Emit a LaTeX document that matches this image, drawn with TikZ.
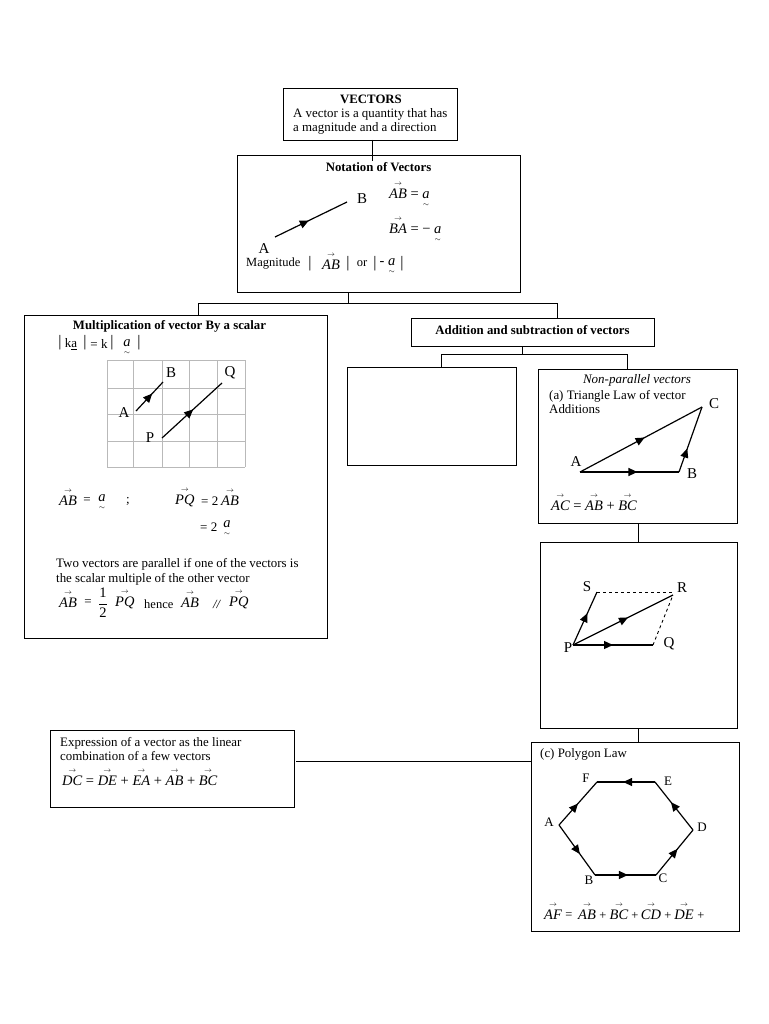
\documentclass[tikz,border=0pt]{standalone}
\usepackage{fontspec}
\setmainfont{Liberation Serif}
\usetikzlibrary{arrows.meta,positioning,decorations.markings}
\newcommand{\vc}[1]{\ensuremath{\mathop{\hbox{\itshape #1}}\limits^{\raise1.5pt\hbox{$\scriptscriptstyle\rightarrow$}}}}
\newcommand{\ua}{\ensuremath{\mathop{\hbox{\itshape a}}\limits_{\lower2pt\hbox{$\scriptscriptstyle\sim$}}}}
\begin{document}
\begin{tikzpicture}[x=1pt,y=-1pt,
box/.style={draw,line width=0.9pt,inner sep=0pt,outer sep=0pt},
link/.style={line width=0.9pt},
txt/.style={inner sep=0pt,align=left,anchor=west,font=\fontsize{12.9}{14.5}\selectfont},
head/.style={inner sep=0pt,font=\fontsize{12.8}{14}\selectfont\bfseries},
lab/.style={inner sep=0pt,font=\fontsize{15}{16}\selectfont},
plab/.style={inner sep=0pt,font=\fontsize{13}{14}\selectfont},
eqn/.style={inner sep=0pt,font=\fontsize{14.5}{16}\selectfont},
small/.style={inner sep=0pt,font=\fontsize{12.5}{14}\selectfont},
bar/.style={inner sep=0pt,font=\fontsize{16}{17}\selectfont},
vecline/.style={line width=1.2pt,postaction={decorate,decoration={markings,mark=at position #1 with {\arrow{Triangle[length=9pt,width=8pt]}}}}},
vecline/.default=0.5]
\useasboundingbox (0,0) rectangle (768,1024);
\node[box,minimum width=174pt,minimum height=52pt] (vectors) at (370,114) {};
\node[box,minimum width=283pt,minimum height=137pt,below=15pt of vectors,xshift=8.5pt] (notation) {};
\node[box,minimum width=303pt,minimum height=323pt,below=23pt of notation,xshift=-203pt] (mult) {};
\node[box,minimum width=243pt,minimum height=28pt,below=26pt of notation,xshift=154pt] (add) {};
\node[box,minimum width=169pt,minimum height=98pt,below=21pt of add,xshift=-101pt] (empty) {};
\node[box,minimum width=199pt,minimum height=154pt,below=23pt of add,xshift=105pt] (nonpar) {};
\node[box,minimum width=197pt,minimum height=186pt,below=19pt of nonpar,xshift=1pt] (para) {};
\node[box,minimum width=208pt,minimum height=189pt,below=14pt of para,xshift=-3.5pt] (poly) {};
\node[box,minimum width=244pt,minimum height=77pt,left=237pt of poly,yshift=68pt] (expr) {};

\coordinate (topend) at (372,161);
\coordinate (jn) at (348,303);
\coordinate (jl) at (198,303);
\coordinate (jr) at (557,303);
\coordinate (ja) at (522,354);
\coordinate (jb) at (441,354);
\coordinate (jc) at (627,354);
\coordinate (jp) at (638,530);
\coordinate (jq) at (638,735);
\coordinate (je) at (296,761);
\draw[link] (topend |- vectors.south)--(topend);
\draw[link] (jn |- notation.south)--(jn);
\draw[link] (mult.north -| jl)--(jl)--(jr)--(add.north -| jr);
\draw[link] (ja |- add.south)--(ja);
\draw[link] (empty.north -| jb)--(jb)--(jc)--(nonpar.north -| jc);
\draw[link] (jp |- nonpar.south)--(jp |- para.north);
\draw[link] (jq |- para.south)--(jq |- poly.north);
\draw[link] (je)--(je -| poly.west);

\node[head] (vectitle) at (371,99) {VECTORS};
\node[txt] (vecdef) at (293,121.5) {A vector is a quantity that has\\a magnitude and a direction};

\node[head] (nottitle) at (378.5,167.5) {Notation of Vectors};
\coordinate (na) at (275,237);
\coordinate (nb) at (347,202);
\draw[vecline=0.47] (na)--(nb);
\node[lab] (nblab) at (362,199) {B};
\node[lab] (nalab) at (264,249) {A};
\node[eqn,anchor=west] (abeq) at (389,195) {\vc{AB} = \ua};
\node[eqn,anchor=west] (baeq) at (389,230) {\vc{BA} = − \ua};
\node[small,anchor=west] (maglab) at (246,264) {Magnitude};
\node[bar] (mb1) at (310,264) {|};
\node[eqn] (magab) at (331,261) {\vc{AB}};
\node[bar] (mb2) at (348,264) {|};
\node[small] (magor) at (362,264) {or};
\node[bar] (mb3) at (375,264) {|};
\node[eqn] (maga) at (387.5,267) {- \ua};
\node[bar] (mb4) at (402,264) {|};

\node[head] (multtitle) at (169.5,326.5) {Multiplication of vector By a scalar};
\node[bar] (kb1) at (60,343) {|};
\node[plab] (kaa) at (71,344) {k\underline{a}};
\node[bar] (kb2) at (85,343) {|};
\node[plab] (kk) at (99,344) {= k};
\node[bar] (kb3) at (112,343) {|};
\node[eqn] (kv) at (127,348) {\ua};
\node[bar] (kb4) at (139,343) {|};
\foreach \x in {107,133,162,189,217,245} \draw[gray!55,line width=1pt] (\x,360)--(\x,467);
\foreach \y in {360,388,414,441,467} \draw[gray!55,line width=1pt] (107,\y)--(245,\y);
\coordinate (ga) at (136,411);
\coordinate (gb) at (163,382);
\coordinate (gp) at (162,438);
\coordinate (gq) at (222,383);
\draw[vecline=0.6] (ga)--(gb);
\draw[vecline=0.52] (gp)--(gq);
\node[lab] (gblab) at (171,373) {B};
\node[lab] (gqlab) at (230,373) {Q};
\node[lab] (galab) at (124,413) {A};
\node[lab] (gplab) at (150,438) {P};
\node[eqn,anchor=west] (eqab) at (59,497.5) {\vc{AB}};
\node[plab] (eqeq) at (87,501) {=};
\node[eqn] (eqa) at (102,503) {\ua};
\node[plab] (eqsemi) at (128,501) {;};
\node[eqn,anchor=west] (eqpq) at (175,497.5) {\vc{PQ}};
\node[plab,anchor=west] (eqtwo) at (201,501) {= 2};
\node[eqn,anchor=west] (eqab2) at (221,497.5) {\vc{AB}};
\node[plab,anchor=west] (eqtwob) at (200,527) {= 2};
\node[eqn] (eqa2) at (227,529) {\ua};
\node[txt] (parallel) at (56,572) {Two vectors are parallel if one of the vectors is\\the scalar multiple of the other vector};
\node[eqn,anchor=west] (hab) at (59,599.5) {\vc{AB}};
\node[plab] (heq) at (88,603) {=};
\node[eqn] (hhalf) at (103,603) {$\displaystyle\frac{\hbox{1}}{\hbox{2}}$};
\node[eqn,anchor=west] (hpq) at (115,599.5) {\vc{PQ}};
\node[small,anchor=west] (hhence) at (144,604) {hence};
\node[eqn,anchor=west] (hab2) at (181,599.5) {\vc{AB}};
\node[small] (hpar) at (217,604) {\textit{//}};
\node[eqn,anchor=west] (hpq2) at (229,599.5) {\vc{PQ}};

\node[head] (addtitle) at (532.5,330.5) {Addition and subtraction of vectors};

\node[plab,font=\fontsize{13}{14}\selectfont\itshape] (nptitle) at (637,380) {Non-parallel vectors};
\node[txt] (trilaw) at (549,402) {(a) Triangle Law of vector\\Additions};
\coordinate (ta) at (580,472);
\coordinate (tb) at (679,472);
\coordinate (tc) at (702,407);
\draw[vecline=0.58] (ta)--(tb);
\draw[vecline=0.36] (tb)--(tc);
\draw[vecline=0.53] (ta)--(tc);
\node[lab] (talab) at (576,462) {A};
\node[lab] (tblab) at (692,474) {B};
\node[lab] (tclab) at (714,404) {C};
\node[eqn,anchor=west] (treq) at (551,502) {\vc{AC} = \vc{AB} + \vc{BC}};

\coordinate (pp) at (573,645);
\coordinate (pq) at (653,645);
\coordinate (pr) at (673,595);
\coordinate (ps) at (597,592);
\draw[vecline=0.5] (pp)--(pq);
\draw[vecline=0.6] (pp)--(ps);
\draw[vecline=0.55] (pp)--(pr);
\draw[dashed,line width=0.9pt] (ps)--(pr |- ps);
\draw[dashed,line width=0.9pt] (pq)--(pr);
\node[lab] (pslab) at (587,587) {S};
\node[lab] (prlab) at (682,588) {R};
\node[lab] (pplab) at (568,648) {P};
\node[lab] (pqlab) at (669,644) {Q};

\node[txt] (exprtext) at (60,749) {Expression of a vector as the linear\\combination of a few vectors};
\node[eqn,anchor=west] (expreq) at (62,777.5) {\vc{DC} = \vc{DE} + \vc{EA} + \vc{AB} + \vc{BC}};

\node[txt] (polytitle) at (540,754) {(c) Polygon Law};
\coordinate (ha) at (559,825);
\coordinate (hb) at (595,875);
\coordinate (hc) at (656,875);
\coordinate (hd) at (693,830);
\coordinate (he) at (655,782);
\coordinate (hf) at (597,782);
\draw[vecline=0.58] (ha)--(hb);
\draw[vecline=0.54] (hb)--(hc);
\draw[vecline=0.58] (hc)--(hd);
\draw[vecline=0.58] (hd)--(he);
\draw[vecline=0.55] (he)--(hf);
\draw[vecline=0.5] (ha)--(hf);
\node[plab] (halab) at (549,822) {A};
\node[plab] (hblab) at (589,880) {B};
\node[plab] (hclab) at (663,878) {C};
\node[plab] (hdlab) at (702,827) {D};
\node[plab] (helab) at (668,781) {E};
\node[plab] (hflab) at (586,778) {F};
\node[eqn,anchor=west] (pleq) at (544,911.5) {\vc{AF}};
\node[small] (pl0) at (569,916) {=};
\node[eqn] (pl1) at (587,911.5) {\vc{AB}};
\node[small] (pl2) at (603,916) {+};
\node[eqn] (pl3) at (619,911.5) {\vc{BC}};
\node[small] (pl4) at (635,916) {+};
\node[eqn] (pl5) at (651,911.5) {\vc{CD}};
\node[small] (pl6) at (668,916) {+};
\node[eqn] (pl7) at (684,911.5) {\vc{DE}};
\node[small] (pl8) at (701,916) {+};
\end{tikzpicture}
\end{document}
